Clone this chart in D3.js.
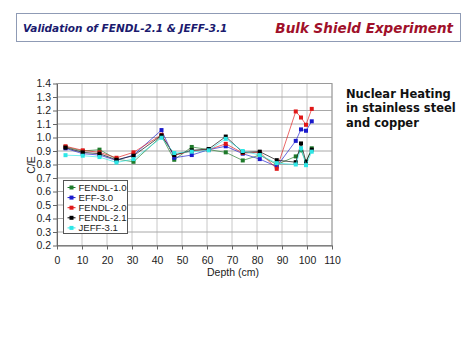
<!DOCTYPE html>
<html>
<head>
<meta charset="utf-8">
<script src="https://cdn.jsdelivr.net/npm/d3@7"></script>
<style>
  body { margin: 0; background: #fff; }
</style>
</head>
<body>
<div class="box"></div>
<script>
// data
const depths = [3.4, 10.3, 17.0, 23.8, 30.6, 41.8, 46.9, 53.9, 60.7, 67.5, 74.3, 81.1, 87.9, 95.5, 97.6, 99.6, 101.9];
const fendl10 = [0.93, 0.90, 0.91, 0.84, 0.82, 1.01, 0.835, 0.93, 0.91, 0.89, 0.83, 0.87, 0.80, 0.86, 0.905, 0.82, 0.92];
const eff30   = [0.92, 0.88, 0.87, 0.83, 0.87, 1.055, 0.85, 0.87, 0.91, 0.935, 0.88, 0.84, 0.785, 0.975, 1.06, 1.05, 1.12];
const fendl20 = [0.935, 0.905, 0.89, 0.85, 0.89, 1.02, 0.87, 0.90, 0.91, 0.953, 0.885, 0.89, 0.768, 1.193, 1.148, 1.094, 1.212];
const fendl21 = [0.925, 0.89, 0.88, 0.835, 0.865, 1.015, 0.87, 0.905, 0.915, 1.007, 0.89, 0.895, 0.832, 0.817, 0.956, 0.82, 0.91];
const jeff31  = [0.869, 0.865, 0.855, 0.815, 0.84, 0.998, 0.885, 0.895, 0.905, 0.99, 0.90, 0.87, 0.81, 0.80, 0.92, 0.795, 0.895];
const seriesNames = ['FENDL-1.0', 'EFF-3.0', 'FENDL-2.0', 'FENDL-2.1', 'JEFF-3.1'];
const seriesValues = [fendl10, eff30, fendl20, fendl21, jeff31];
const seriesColors = ['#1e7a2a', '#1a1acc', '#e01818', '#000000', '#2ee6e6'];
const xTicks = [0, 10, 20, 30, 40, 50, 60, 70, 80, 90, 100, 110];
const yTicks = [0.2, 0.3, 0.4, 0.5, 0.6, 0.7, 0.8, 0.9, 1.0, 1.1, 1.2, 1.3, 1.4];

const svg = d3.select('.box')
              .append('svg')
              .attr('width', 474)
              .attr('height', 355)
              .style('display', 'block');

// header box
svg.append('rect')
   .attr('x', 16.5).attr('y', 13.5)
   .attr('width', 444).attr('height', 28)
   .attr('fill', '#fff')
   .attr('stroke', '#8f9bb5')
   .attr('stroke-width', 1);

svg.append('text')
   .attr('x', 23).attr('y', 32)
   .attr('font-family', 'DejaVu Sans, Verdana, sans-serif')
   .attr('font-size', 10.5)
   .attr('font-weight', 'bold')
   .attr('font-style', 'italic')
   .attr('fill', '#1a1a6e')
   .text('Validation of FENDL-2.1 & JEFF-3.1');

svg.append('text')
   .attr('x', 453).attr('y', 33)
   .attr('text-anchor', 'end')
   .attr('font-family', 'DejaVu Sans, Verdana, sans-serif')
   .attr('font-size', 13.5)
   .attr('font-weight', 'bold')
   .attr('font-style', 'italic')
   .attr('fill', '#a0102a')
   .text('Bulk Shield Experiment');

// annotation
const note = svg.append('text')
   .attr('font-family', 'DejaVu Sans, Verdana, sans-serif')
   .attr('font-size', 11.5)
   .attr('font-weight', 'bold')
   .attr('fill', '#111');
['Nuclear Heating', 'in stainless steel', 'and copper'].forEach((t, i) => {
  note.append('tspan').attr('x', 346).attr('y', 98 + i * 14.3).text(t);
});

// plot
const margin = {top: 83.5, left: 57};
const graphWidth = 275;
const graphHeight = 162;

const graph = svg.append('g')
                 .attr('transform', `translate(${margin.left}, ${margin.top})`);

const x = d3.scaleLinear().domain([0, 110]).range([0, graphWidth]);
const y = d3.scaleLinear().domain([0.2, 1.4]).range([graphHeight, 0]);

// grid
graph.append('g').selectAll('line.gx')
     .data(xTicks.slice(1))
     .enter().append('line')
     .attr('x1', d => x(d)).attr('x2', d => x(d))
     .attr('y1', 0).attr('y2', graphHeight)
     .attr('stroke', '#c8c8c8');
graph.append('g').selectAll('line.gy')
     .data(yTicks.slice(1))
     .enter().append('line')
     .attr('x1', 0).attr('x2', graphWidth)
     .attr('y1', d => y(d)).attr('y2', d => y(d))
     .attr('stroke', '#a8a8a8');

graph.append('rect')
     .attr('width', graphWidth).attr('height', graphHeight)
     .attr('fill', 'none').attr('stroke', '#9a9a9a');

// axes
const axeX = d3.axisBottom(x).tickValues(xTicks).tickSize(4).tickSizeOuter(0).tickFormat(d3.format('d'));
const axeY = d3.axisLeft(y).tickValues(yTicks).tickSize(4).tickSizeOuter(0).tickFormat(d3.format('.1f'));

const gx = graph.append('g').attr('transform', `translate(0, ${graphHeight})`).call(axeX);
const gy = graph.append('g').call(axeY);
[gx, gy].forEach(g => {
  g.select('.domain').attr('stroke', '#666');
  g.selectAll('.tick line').attr('stroke', '#666');
  g.selectAll('.tick text')
   .attr('fill', '#222')
   .style('font-family', 'Liberation Sans, Arial, sans-serif')
   .style('font-size', '10.5px');
});
gx.selectAll('.tick text').attr('dy', '1.1em');
gy.selectAll('.tick text').attr('x', -6);

svg.append('text')
   .attr('x', 233).attr('y', 276)
   .attr('text-anchor', 'middle')
   .attr('font-family', 'Liberation Sans, Arial, sans-serif')
   .attr('font-size', 10.5)
   .attr('fill', '#222')
   .text('Depth (cm)');

svg.append('text')
   .attr('transform', 'translate(35, 165) rotate(-90)')
   .attr('text-anchor', 'middle')
   .attr('font-family', 'Liberation Sans, Arial, sans-serif')
   .attr('font-size', 10.5)
   .attr('fill', '#222')
   .text('C/E');

// series
const line = d3.line().x((d, i) => x(depths[i])).y(d => y(d));

seriesValues.forEach((vals, k) => {
  graph.append('path')
       .datum(vals)
       .attr('d', line)
       .attr('fill', 'none')
       .attr('stroke', seriesColors[k])
       .attr('stroke-opacity', 0.65)
       .attr('stroke-width', 1);
  graph.selectAll('rect.m' + k)
       .data(vals)
       .enter().append('rect')
       .attr('x', (d, i) => x(depths[i]) - 2)
       .attr('y', d => y(d) - 2)
       .attr('width', 4).attr('height', 4)
       .attr('fill', seriesColors[k]);
});

// legend
const legend = svg.append('g').attr('transform', 'translate(63.5, 180.5)');
legend.append('rect')
      .attr('width', 64).attr('height', 53)
      .attr('fill', '#fff').attr('stroke', '#555');
seriesNames.forEach((name, k) => {
  const row = legend.append('g').attr('transform', `translate(0, ${7 + k * 10.1})`);
  row.append('line')
     .attr('x1', 4).attr('x2', 12)
     .attr('stroke', seriesColors[k]).attr('stroke-width', 1);
  row.append('rect')
     .attr('x', 6).attr('y', -2).attr('width', 4).attr('height', 4)
     .attr('fill', seriesColors[k]);
  row.append('text')
     .attr('x', 15).attr('y', 3.5)
     .attr('font-family', 'Liberation Sans, Arial, sans-serif')
     .attr('font-size', 9.6)
     .attr('fill', '#222')
     .text(name);
});
</script>
</body>
</html>
